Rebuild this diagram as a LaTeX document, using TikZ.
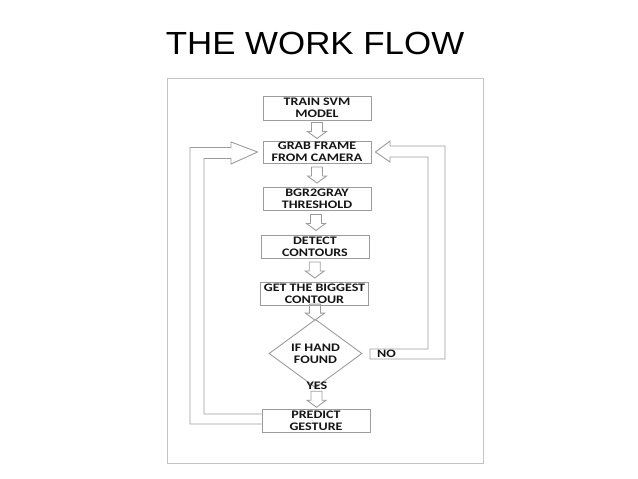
\documentclass[tikz,border=0pt]{standalone}
\usepackage{fontspec}
\setmainfont{Liberation Sans}
\newfontfamily\boxfont[FakeStretch=1.22]{Carlito}
\usetikzlibrary{shapes.geometric,calc}
\definecolor{linegray}{HTML}{9C9C9C}
\definecolor{framegray}{HTML}{C4C4C4}
\newcommand\flowarrow[1]{%
  \draw[arrowline] ($(#1)+(-5.5,-8)$) -- ++(11,0) -- ++(0,9) -- ++(4,0)
    -- ($(#1)+(0,8)$) -- ($(#1)+(-9.5,1)$) -- ++(4,0) -- cycle;}
\begin{document}
\begin{tikzpicture}[x=1pt,y=-1pt,
  flowbox/.style={draw=linegray, line width=0.9pt, minimum width=108pt,
    minimum height=23pt, inner sep=0pt, align=center, text=black!92,
    font=\boxfont\bfseries\fontsize{11.5}{12}\selectfont},
  flowtext/.style={inner sep=0pt, text=black!92,
    font=\boxfont\bfseries\fontsize{11.5}{12}\selectfont},
  arrowline/.style={draw=linegray, line width=0.9pt, line join=miter},
  loopline/.style={draw=linegray, line width=0.9pt, line join=miter}]
\useasboundingbox (0,0) rectangle (638,479);
% title
\node[anchor=base, inner sep=0pt, font=\fontsize{32}{36}\selectfont] (title) at (315,54)
  {\scalebox{1.09}[1]{THE WORK FLOW}};
% frame
\draw[framegray, line width=1pt] (167,78) rectangle (483,463);
% boxes
\node[flowbox, minimum height=24pt] (train) at (317,108) {TRAIN SVM\\MODEL};
\node[flowbox, minimum height=22pt] (grab) at (317,152) {GRAB FRAME\\FROM CAMERA};
\node[flowbox] (gray) at (317,198.5) {BGR2GRAY\\THRESHOLD};
\node[flowbox] (detect) at (315,246.5) {DETECT\\CONTOURS};
\node[flowbox] (biggest) at (314.5,293.5) {GET THE BIGGEST\\CONTOUR};
\node[diamond, draw=linegray, line width=0.9pt, minimum width=93pt, minimum height=53pt,
  inner sep=0pt, align=center, text=black!92,
  font=\boxfont\bfseries\fontsize{11.5}{12}\selectfont] (hand) at (315.5,353.5) {IF HAND\\FOUND};
\node[flowbox] (predict) at (316,420.5) {PREDICT\\GESTURE};
\node[flowtext] (yes) at (317,386) {YES};
\node[flowtext, anchor=west] (no) at (377,354) {NO};
% small block arrows
\path (train.south) -- (grab.north) coordinate[pos=0.5] (a1);
\path (grab.south) -- (gray.north) coordinate[pos=0.5] (a2);
\path (gray.south) -- (detect.north) coordinate[pos=0.5] (a3);
\path (detect.south) -- (biggest.north) coordinate[pos=0.5] (a4);
\path (biggest.south) -- (hand.north) coordinate[pos=0.5] (a5);
\path (yes.south) -- (predict.north) coordinate[pos=0.5] (a6);
\flowarrow{a1}
\flowarrow{a2}
\flowarrow{a3}
\flowarrow{a4}
\flowarrow{a5}
\flowarrow{a6}
% right loop (NO)
\coordinate (rtip) at ($(grab.east)+(4,0)$);
\draw[loopline] (370,359) -- (445,359) -- (445,146) -- (390,146) -- (390,141)
  -- (rtip) -- (390,162) -- (390,157) -- (428,157) -- (428,349) -- (370,349) -- cycle;
% left loop (back from predict)
\coordinate (ltip) at ($(grab.west)+(-5,0)$);
\draw[loopline] ($(predict.west)+(0,-6.5)$) -- (204,414) -- (204,158.5) -- (231,158.5)
  -- (231,164) -- (ltip) -- (231,142) -- (231,147.5) -- (190,147.5) -- (190,424)
  -- ($(predict.west)+(0,3.5)$);
\end{tikzpicture}
\end{document}
